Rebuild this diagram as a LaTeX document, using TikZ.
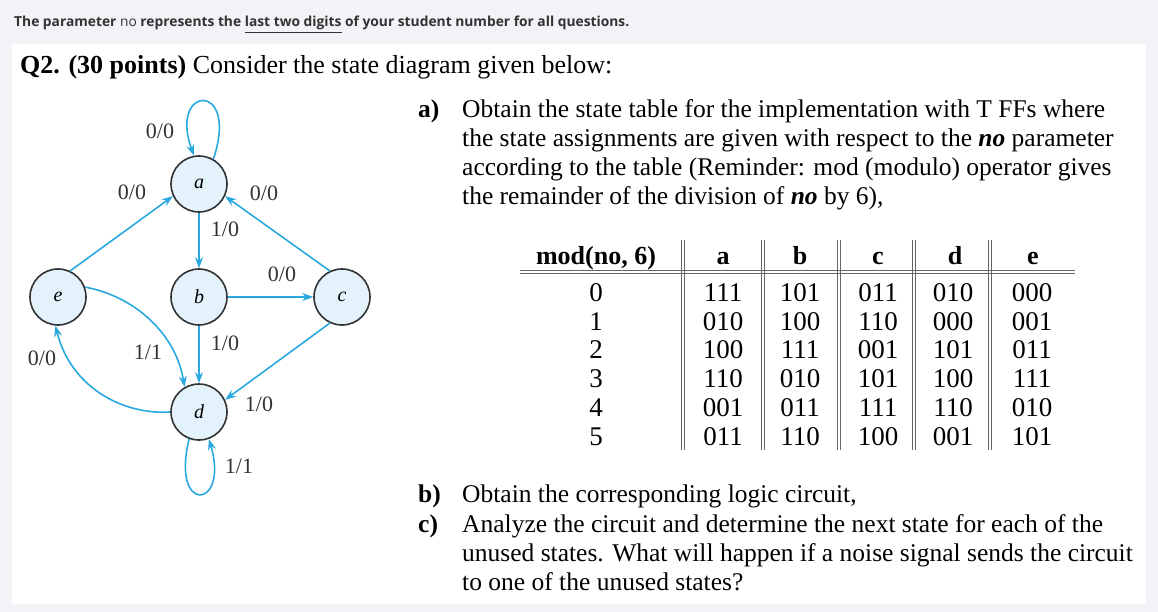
\documentclass[tikz,border=0pt]{standalone}
\usepackage{fontspec}
\setmainfont{Liberation Serif}
\newfontfamily\uisans{Open Sans}
\usetikzlibrary{arrows.meta}
\definecolor{arr}{HTML}{2AA8E0}
\definecolor{nfill}{HTML}{E4F2FB}
\definecolor{pagebg}{HTML}{F1F3F6}
\tikzset{
 st/.style={circle,draw=black!80,line width=1.6pt,fill=nfill,minimum size=56pt,inner sep=0pt,font=\fontsize{20}{20}\selectfont\itshape},
 tr/.style={draw=arr,line width=1.6pt,-{Stealth[length=11pt,width=8pt]}},
 lb/.style={font=\fontsize{22}{22}\selectfont,text=black!80},
 body/.style={font=\fontsize{25.5}{27}\selectfont,anchor=base west,inner sep=0pt},
 cell/.style={font=\fontsize{27}{27}\selectfont,anchor=base,inner sep=0pt},
 hcell/.style={font=\fontsize{26}{26}\selectfont\bfseries,anchor=base,inner sep=0pt},
}
\begin{document}
\begin{tikzpicture}[x=1pt,y=-1pt]
\useasboundingbox (0,0) rectangle (1158,612);
\fill[pagebg] (0,0) rectangle (1158,612);
\fill[white] (12,44) rectangle (1146,604);
\node[anchor=base west,inner sep=0pt,font=\uisans\fontsize{13.8}{13.8}\selectfont\bfseries,text=black!80] (title) at (14,27)
 {The parameter \textit{\normalfont\uisans\fontsize{13.8}{13.8}\selectfont no} represents the \underline{last two digits} of your student number for all questions.};
\node[body,font=\fontsize{26}{27}\selectfont] (q) at (20,74) {\textbf{Q2. (30 points)} Consider the state diagram given below:};
% state diagram
\node[st] (a) at (199,184) {a};
\node[st] (e) at (58,297) {e};
\node[st] (b) at (199,297) {b};
\node[st] (c) at (342,297) {c};
\node[st] (d) at (199,412) {d};
\draw[tr] (a.60) .. controls (240,80) and (168,85) .. (a.100);
\draw[tr] (e.65) -- (a.205);
\draw[tr] (c.115) -- (a.335);
\draw[tr] (a) -- (b);
\draw[tr] (b) -- (c);
\draw[tr] (b) -- (d);
\draw[tr] (c.245) -- (d.25);
\draw[tr] (e.20) .. controls (130,295) and (175,330) .. (d.120);
\draw[tr] (d.180) .. controls (120,415) and (70,385) .. (e.265);
\draw[tr] (d.250) .. controls (170,515) and (230,510) .. (d.290);
\node[lb] (l1) at (160,131) {0/0};
\node[lb] (l2) at (132,192) {0/0};
\node[lb] (l3) at (264,193) {0/0};
\node[lb] (l4) at (225,229) {1/0};
\node[lb] (l5) at (282,274) {0/0};
\node[lb] (l6) at (148,352) {1/1};
\node[lb] (l7) at (225,343) {1/0};
\node[lb] (l8) at (42,358) {0/0};
\node[lb] (l9) at (259,404) {1/0};
\node[lb] (l10) at (239,466) {1/1};
% part a
\node[body] (pa) at (418,118) {\textbf{a)}};
\node[body] at (462,118) {Obtain the state table for the implementation with T FFs where};
\node[body] at (462,147) {the state assignments are given with respect to the \textbf{\textit{no}} parameter};
\node[body] at (462,176) {according to the table (Reminder: mod (modulo) operator gives};
\node[body] at (462,205) {the remainder of the division of \textbf{\textit{no}} by 6),};
% table
\foreach \x in {683,763,839,914,990}{
 \draw[black!60,line width=0.9pt] (\x-1.5,240) -- (\x-1.5,450);
 \draw[black!60,line width=0.9pt] (\x+1.5,240) -- (\x+1.5,450);
}
\draw[black!60,line width=0.9pt] (520,270.5) -- (1075,270.5);
\draw[black!60,line width=0.9pt] (520,273.5) -- (1075,273.5);
\node[hcell] (h0) at (596,265) {mod(no, 6)};
\node[hcell] (ha) at (723,265) {a};
\node[hcell] (hb) at (800,265) {b};
\node[hcell] (hc) at (878,265) {c};
\node[hcell] (hd) at (955,265) {d};
\node[hcell] (he) at (1033,265) {e};
\def\row#1#2#3#4#5#6#7{\node[cell] at (596,#7) {#1};\node[cell] at (723,#7) {#2};\node[cell] at (800,#7) {#3};\node[cell] at (878,#7) {#4};\node[cell] at (953,#7) {#5};\node[cell] at (1032,#7) {#6};}
\row{0}{111}{101}{011}{010}{000}{301}
\row{1}{010}{100}{110}{000}{001}{330}
\row{2}{100}{111}{001}{101}{011}{358}
\row{3}{110}{010}{101}{100}{111}{387}
\row{4}{001}{011}{111}{110}{010}{416}
\row{5}{011}{110}{100}{001}{101}{445}
% b, c
\node[body] (pb) at (418,502) {\textbf{b)}};
\node[body] at (462,502) {Obtain the corresponding logic circuit,};
\node[body] (pc) at (418,532) {\textbf{c)}};
\node[body] at (462,532) {Analyze the circuit and determine the next state for each of the};
\node[body] at (462,561) {unused states. What will happen if a noise signal sends the circuit};
\node[body] at (462,590) {to one of the unused states?};
\end{tikzpicture}
\end{document}
